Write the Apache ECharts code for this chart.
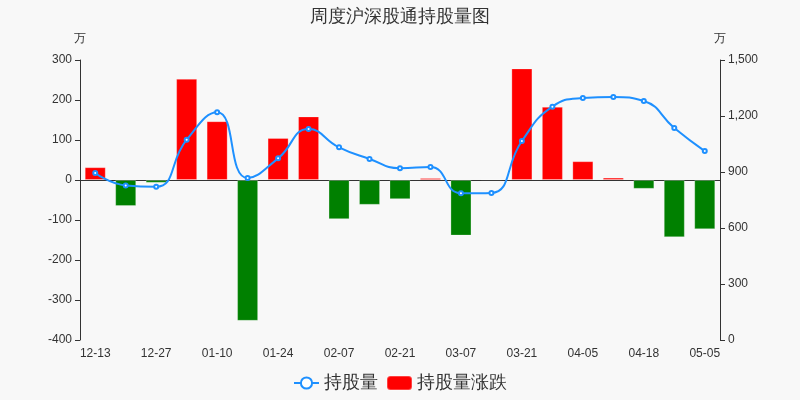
<!DOCTYPE html>
<html>
<head>
<meta charset="utf-8">
<script src="https://cdn.jsdelivr.net/npm/echarts@6/dist/echarts.min.js"></script>
<style>html,body{margin:0;padding:0;background:#f8f8f8;}#c{width:800px;height:400px;}</style>
</head>
<body>
<div id="c"></div>
<script>
const categories = ['12-13','12-20','12-27','01-03','01-10','01-17','01-24','01-31','02-07','02-14','02-21','02-28','03-07','03-14','03-21','03-28','04-05','04-11','04-18','04-25','05-05'];
const holdings = [895, 828, 821, 1073, 1220, 868, 973, 1130, 1032, 970, 920, 927, 786, 788, 1066, 1250, 1296, 1302, 1280, 1136, 1012];
const changes = [32, -65, -7, 253, 147, -352, 105, 159, -98, -62, -48, 5, -139, 2, 279, 183, 47, 6, -22, -143, -123];
const leftTicks = {min: -400, max: 300, interval: 100};
const rightTicks = {min: 0, max: 1500, interval: 300};

const chart = echarts.init(document.getElementById('c'));
chart.setOption({
  backgroundColor: '#f8f8f8',
  title: {text: '周度沪深股通持股量图', left: 'center', top: 3, textStyle: {fontSize: 18, fontWeight: 'normal', color: '#333'}},
  legend: {bottom: 3, left: 'center', itemWidth: 25, itemHeight: 14, textStyle: {fontSize: 18, color: '#333'},
    data: [{name: '持股量'}, {name: '持股量涨跌', icon: 'roundRect', itemStyle: {color: '#ff0000'}}]},
  grid: {left: 80, right: 80, top: 60, bottom: 60},
  xAxis: [
    {type: 'category', data: categories, axisLine: {onZero: true, lineStyle: {color: '#333'}},
     axisTick: {interval: 1, lineStyle: {color: '#333'}}, axisLabel: {show: false}},
    {type: 'category', data: categories, position: 'bottom', axisLine: {show: false, onZero: false},
     axisTick: {show: false}, axisLabel: {interval: 1, fontSize: 12, color: '#333'}}
  ],
  yAxis: [
    {type: 'value', name: '万', min: leftTicks.min, max: leftTicks.max, interval: leftTicks.interval,
     nameTextStyle: {color: '#333', fontSize: 12},
     axisLine: {show: true, lineStyle: {color: '#333'}}, axisTick: {show: true}, splitLine: {show: false},
     axisLabel: {fontSize: 12, color: '#333'}},
    {type: 'value', name: '万', min: rightTicks.min, max: rightTicks.max, interval: rightTicks.interval,
     nameTextStyle: {color: '#333', fontSize: 12},
     axisLine: {show: true, lineStyle: {color: '#333'}}, axisTick: {show: true}, splitLine: {show: false},
     axisLabel: {fontSize: 12, color: '#333', formatter: v => v.toLocaleString('en-US')}}
  ],
  series: [
    {name: '持股量涨跌', type: 'bar', xAxisIndex: 0, yAxisIndex: 0, barWidth: '69%', data: changes,
     itemStyle: {color: p => p.value >= 0 ? '#ff0000' : '#008000', borderWidth: 1,
       borderColor: 'rgba(255,255,255,0.25)'}},
    {name: '持股量', type: 'line', xAxisIndex: 0, yAxisIndex: 1, smooth: true, data: holdings,
     symbol: 'emptyCircle', symbolSize: 4, lineStyle: {width: 2, color: '#1e90ff'},
     itemStyle: {color: '#1e90ff', borderWidth: 1}}
  ]
});
</script>
</body>
</html>
